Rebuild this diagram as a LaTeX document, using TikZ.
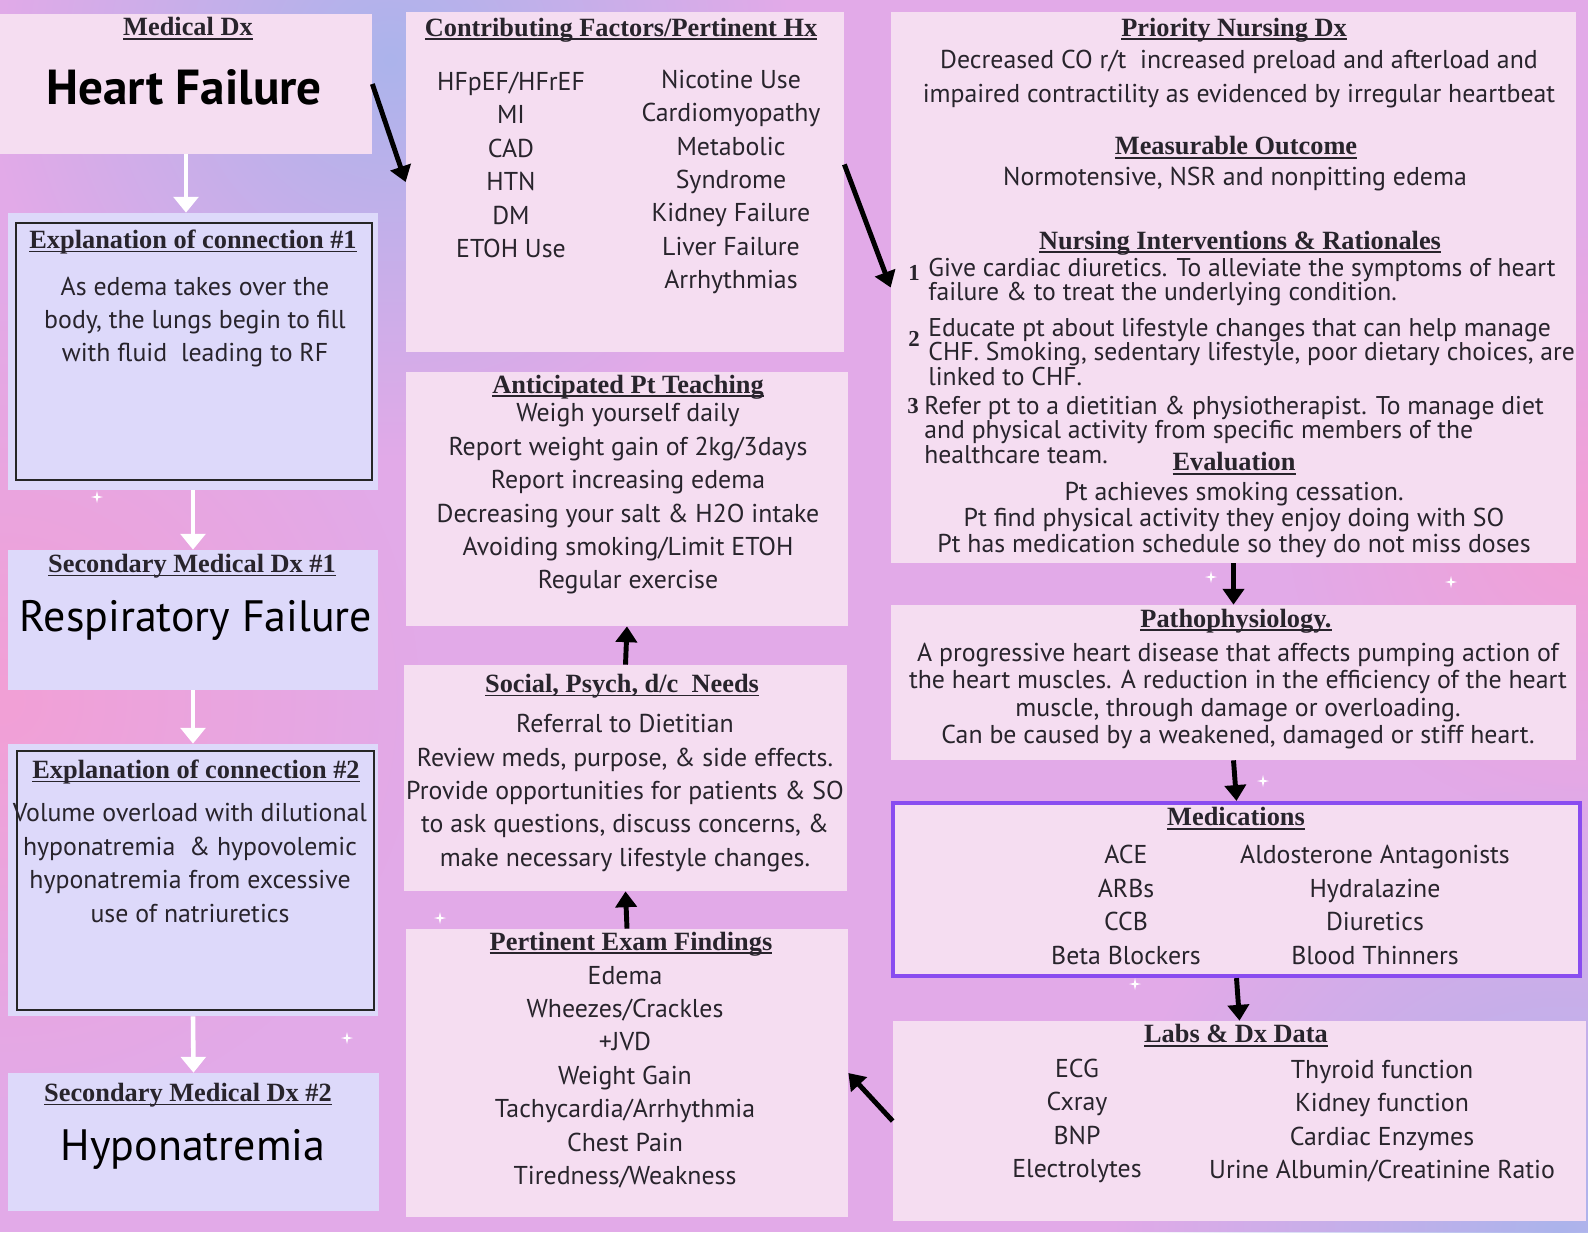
\documentclass[tikz,border=0pt]{standalone}
\usepackage{fontspec}
\setmainfont{PT Sans}
\newfontfamily\headfont{Liberation Serif}
\newcommand\hul[1]{\setbox0\hbox{#1}\rlap{\rule[-2.2pt]{\wd0}{0.8pt}}\box0}
\usetikzlibrary{arrows.meta,positioning,fit,fadings,shapes.geometric}
\definecolor{boxpink}{RGB}{245,221,241}
\definecolor{boxlav}{RGB}{221,217,250}
\definecolor{medpurple}{RGB}{137,76,240}
\definecolor{bgpink}{RGB}{226,170,232}
\definecolor{bgblue}{RGB}{172,180,236}
\definecolor{bghot}{RGB}{242,160,214}
\definecolor{inktext}{RGB}{40,36,44}
\tikzfading[name=blobfade, inner color=transparent!0, outer color=transparent!100]

\begin{document}
\begin{tikzpicture}[x=0.02cm,y=-0.02cm,
  pinkbox/.style={fill=boxpink,inner sep=0pt},
  lavbox/.style={fill=boxlav,inner sep=0pt},
  frame/.style={draw=black!85,line width=0.9pt,inner sep=0pt},
  medframe/.style={fill=boxpink,draw=medpurple,line width=2.4pt,inner sep=0pt},
  head/.style={font=\headfont\bfseries\fontsize{15}{17}\selectfont,text=inktext,inner sep=0pt,yshift=-1pt},
  body/.style={font=\fontsize{14.7}{19}\selectfont,align=center,text=inktext,inner sep=0pt},
  tight/.style={font=\fontsize{14.6}{13.9}\selectfont,align=left,text=inktext,inner sep=0pt,anchor=west},
  numlab/.style={font=\headfont\bfseries\fontsize{13}{14}\selectfont,text=inktext,inner sep=0pt},
  bigtext/.style={font=\fontsize{25}{29}\selectfont,text=black,inner sep=0pt},
  hftext/.style={font=\bfseries\fontsize{28}{32}\selectfont,text=black,inner sep=0pt},
  blkarr/.style={-{Triangle[length=9pt,width=12pt]},line width=2.8pt,black},
  whtarr/.style={-{Triangle[length=9pt,width=14pt]},line width=2.6pt,white},
  sparkle/.style={star,star points=4,star point ratio=4,fill=white,inner sep=0pt,minimum size=7pt}
]
  \useasboundingbox (0,0) rectangle (1588,1232);

  % background
  \fill[bgpink] (0,0) rectangle (1588,1232);
  \fill[bgblue,path fading=blobfade] (390,60) circle (400);
  \fill[bgblue,path fading=blobfade] (1560,1232) circle (450);
  \fill[bghot,path fading=blobfade] (0,700) circle (420);
  \fill[bghot,path fading=blobfade] (1588,520) circle (300);
  \foreach \sx/\sy in {97/497, 1211/577, 1451/582, 1263/781, 1135/984, 440/918, 347/1038, 122/918}
    \node[sparkle] at (\sx,\sy) {};

  % left column
  \node[pinkbox,fit={(0,14) (372,154)}] (meddx) {};
  \node[head] (meddxh) at (188,27) {\hul{Medical Dx}};
  \node[hftext] (hf) at (184,87) {Heart Failure};

  \node[lavbox,fit={(8,213) (378,490)}] (ex1) {};
  \node[frame,fit={(16,223) (372,480)}] (ex1f) {};
  \node[head] (ex1h) at (193,240) {\hul{Explanation of connection \#1}};
  \node[body] (ex1t) at (195,322) {As edema takes over the\\body, the lungs begin to fill\\with fluid~ leading to RF};

  \node[lavbox,fit={(8,550) (378,690)}] (sec1) {};
  \node[head] (sec1h) at (192,564) {\hul{Secondary Medical Dx \#1}};
  \node[bigtext] (sec1t) at (196,620) {Respiratory Failure};

  \node[lavbox,fit={(8,744) (378,1016)}] (ex2) {};
  \node[frame,fit={(17,751) (374,1010)}] (ex2f) {};
  \node[head] (ex2h) at (196,770) {\hul{Explanation of connection \#2}};
  \node[body] (ex2t) at (190,863) {Volume overload with dilutional\\hyponatremia ~\& hypovolemic\\hyponatremia from excessive\\use of natriuretics};

  \node[lavbox,fit={(8,1073) (379,1211)}] (sec2) {};
  \node[head] (sec2h) at (188,1093) {\hul{Secondary Medical Dx \#2}};
  \node[bigtext] (sec2t) at (193,1149) {Hyponatremia};

  % middle column
  \node[pinkbox,fit={(406,12) (844,352)}] (contrib) {};
  \node[head] (contribh) at (621,28) {\hul{Contributing Factors/Pertinent Hx}};
  \node[body] (contribl) at (511,165) {HFpEF/HFrEF\\MI\\CAD\\HTN\\DM\\ETOH Use};
  \node[body] (contribr) at (731,182) {Nicotine Use\\Cardiomyopathy\\Metabolic\\Syndrome\\Kidney Failure\\Liver Failure\\Arrhythmias};

  \node[pinkbox,fit={(406,372) (848,626)}] (antic) {};
  \node[head] (antich) at (628,385) {\hul{Anticipated Pt Teaching}};
  \node[body] (antict) at (628,499) {Weigh yourself daily\\Report weight gain of 2kg/3days\\Report increasing edema\\Decreasing your salt \& H2O intake\\Avoiding smoking/Limit ETOH\\Regular exercise};

  \node[pinkbox,fit={(404,665) (847,891)}] (social) {};
  \node[head] (socialh) at (622,684) {\hul{Social, Psych, d/c~ Needs}};
  \node[body] (socialt) at (625,793) {Referral to Dietitian\\Review meds, purpose, \& side effects.\\Provide opportunities for patients \& SO\\to ask questions, discuss concerns, \&\\make necessary lifestyle changes.};

  \node[pinkbox,fit={(406,929) (848,1217)}] (exam) {};
  \node[head] (examh) at (631,942) {\hul{Pertinent Exam Findings}};
  \node[body] (examt) at (625,1077) {Edema\\Wheezes/Crackles\\+JVD\\Weight Gain\\Tachycardia/Arrhythmia\\Chest Pain\\Tiredness/Weakness};

  % right column
  \node[pinkbox,fit={(891,12) (1576,563)}] (prio) {};
  \node[head] (prioh) at (1234,28) {\hul{Priority Nursing Dx}};
  \node[body] (priot) at (1239,79) {Decreased CO r/t~ increased preload and afterload and\\impaired contractility as evidenced by irregular heartbeat};
  \node[head] (outch) at (1236,146) {\hul{Measurable Outcome}};
  \node[body] (outct) at (1235,179) {Normotensive, NSR and nonpitting edema};
  \node[head] (intvh) at (1240,241) {\hul{Nursing Interventions \& Rationales}};
  \node[numlab] (n1) at (914,273) {1};
  \node[tight] (intv1) at (928,282) {Give cardiac diuretics. To alleviate the symptoms of heart\\failure \& to treat the underlying condition.};
  \node[numlab] (n2) at (914,339) {2};
  \node[tight] (intv2) at (928,352) {Educate pt about lifestyle changes that can help manage\\CHF. Smoking, sedentary lifestyle, poor dietary choices, are\\linked to CHF.};
  \node[numlab] (n3) at (913,406) {3};
  \node[tight] (intv3) at (924,430) {Refer pt to a dietitian \& physiotherapist. To manage diet\\and physical activity from specific members of the\\healthcare team.};
  \node[head] (evalh) at (1234,462) {\hul{Evaluation}};
  \node[body,font=\fontsize{14.7}{14.8}\selectfont] (evalt) at (1234,520) {Pt achieves smoking cessation.\\Pt find physical activity they enjoy doing with SO\\Pt has medication schedule so they do not miss doses};

  \node[pinkbox,fit={(891,605) (1576,760)}] (patho) {};
  \node[head] (pathoh) at (1236,619) {\hul{Pathophysiology.}};
  \node[body,font=\fontsize{14.7}{15.5}\selectfont] (pathot) at (1238,696) {A progressive heart disease that affects pumping action of\\the heart muscles. A reduction in the efficiency of the heart\\muscle, through damage or overloading.\\Can be caused by a weakened, damaged or stiff heart.};

  \node[medframe,fit={(893,803) (1580,976)}] (meds) {};
  \node[head] (medsh) at (1236,817) {\hul{Medications}};
  \node[body] (medsl) at (1126,905) {ACE\\ARBs\\CCB\\Beta Blockers};
  \node[body] (medsr) at (1375,905) {Aldosterone Antagonists\\Hydralazine\\Diuretics\\Blood Thinners};

  \node[pinkbox,fit={(893,1021) (1586,1221)}] (labs) {};
  \node[head] (labsh) at (1236,1034) {\hul{Labs \& Dx Data}};
  \node[body] (labsl) at (1077,1121) {ECG\\Cxray\\BNP\\Electrolytes};
  \node[body] (labsr) at (1382,1121) {Thyroid function\\Kidney function\\Cardiac Enzymes\\Urine Albumin/Creatinine Ratio};

  % connectors
  \draw[whtarr] (meddx.south) -- (meddx.south |- ex1.north);
  \draw[whtarr] (ex1.south) -- (sec1.north);
  \draw[whtarr] (sec1.south) -- (ex2.north);
  \draw[whtarr] (ex2.south) -- (sec2.north);
  \draw[blkarr] (meddx.east) -- (contrib.west);
  \draw[blkarr] ([yshift=10pt]contrib.east) -- (prio.west);
  \draw[blkarr] (exam.north) -- (social.south);
  \draw[blkarr] (social.north) -- (antic.south);
  \draw[blkarr] (prio.south) -- (patho.north);
  \draw[blkarr] (patho.south) -- (meds.north);
  \draw[blkarr] (meds.south) -- (labs.north);
  \draw[blkarr] (labs.west) -- (exam.east);
\end{tikzpicture}
\end{document}
